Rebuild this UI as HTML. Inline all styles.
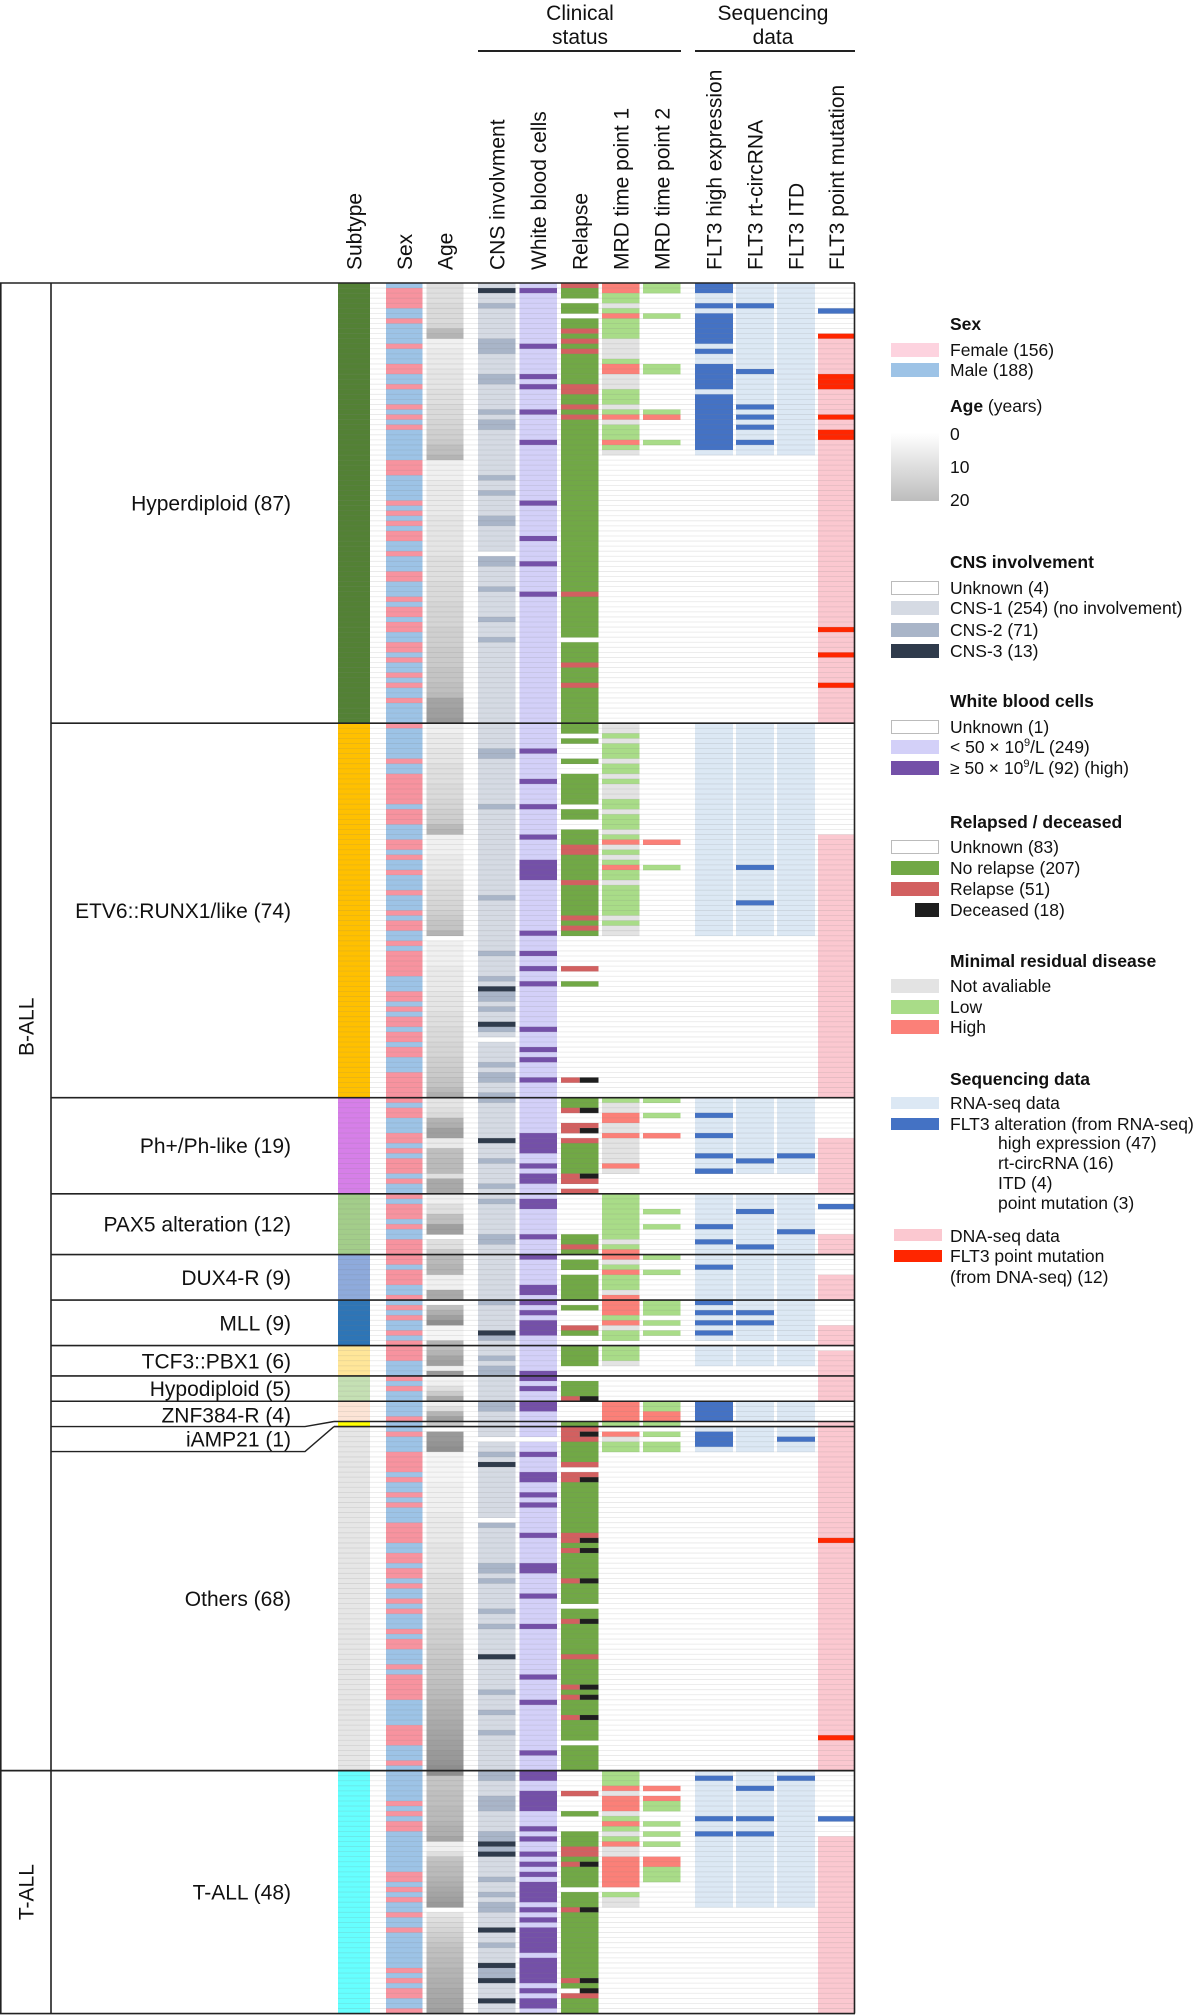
<!DOCTYPE html>
<html><head><meta charset="utf-8"><title>FLT3 cohort overview</title>
<style>
html,body{margin:0;padding:0;background:#fff;}
svg{display:block;font-family:"Liberation Sans",Arial,sans-serif;}
</style></head>
<body>
<svg id="chart" width="1200" height="2016" viewBox="0 0 1200 2016" xmlns="http://www.w3.org/2000/svg">
  <g id="header" font-size="21" fill="#111">
    <text x="580" y="20" text-anchor="middle">Clinical</text>
    <text x="580" y="44" text-anchor="middle">status</text>
    <line x1="478" y1="51" x2="681" y2="51" stroke="#222" stroke-width="2"/>
    <text x="773" y="20" text-anchor="middle">Sequencing</text>
    <text x="773" y="44" text-anchor="middle">data</text>
    <line x1="695" y1="51" x2="855" y2="51" stroke="#222" stroke-width="2"/>
  </g>
  <g id="cells"></g>
  <g id="gridlines"></g>
  <g id="frame"></g>
  <g id="labels" font-size="21" fill="#111"></g>

  <g id="legend" font-size="17.5" fill="#111">
    <text x="950" y="330" font-weight="bold">Sex</text>
    <rect x="891" y="343" width="48" height="14" fill="#fdd3df"/>
    <text x="950" y="356">Female (156)</text>
    <rect x="891" y="363" width="48" height="14" fill="#9dc3e6"/>
    <text x="950" y="376">Male (188)</text>

    <text x="950" y="412"><tspan font-weight="bold">Age</tspan> (years)</text>
    <defs><linearGradient id="ageg" x1="0" y1="0" x2="0" y2="1"><stop offset="0" stop-color="#ffffff"/><stop offset="1" stop-color="#bdbdbd"/></linearGradient></defs>
    <rect x="891" y="433" width="48" height="68" fill="url(#ageg)"/>
    <text x="950" y="440">0</text>
    <text x="950" y="473">10</text>
    <text x="950" y="506">20</text>

    <text x="950" y="568" font-weight="bold">CNS involvement</text>
    <rect x="891.5" y="581.5" width="47" height="13" fill="#fff" stroke="#bbb"/>
    <text x="950" y="594">Unknown (4)</text>
    <rect x="891" y="601" width="48" height="14" fill="#d5dae3"/>
    <text x="950" y="614">CNS-1 (254) (no involvement)</text>
    <rect x="891" y="623" width="48" height="14" fill="#a9b5c8"/>
    <text x="950" y="636">CNS-2 (71)</text>
    <rect x="891" y="644" width="48" height="14" fill="#2f3b4c"/>
    <text x="950" y="657">CNS-3 (13)</text>

    <text x="950" y="707" font-weight="bold">White blood cells</text>
    <rect x="891.5" y="720.5" width="47" height="13" fill="#fff" stroke="#bbb"/>
    <text x="950" y="733">Unknown (1)</text>
    <rect x="891" y="740" width="48" height="14" fill="#d3d0f8"/>
    <text x="950" y="753">&lt; 50 × 10<tspan font-size="11" dy="-7">9</tspan><tspan dy="7">/L (249)</tspan></text>
    <rect x="891" y="761" width="48" height="14" fill="#7450a8"/>
    <text x="950" y="774">≥ 50 × 10<tspan font-size="11" dy="-7">9</tspan><tspan dy="7">/L (92) (high)</tspan></text>

    <text x="950" y="828" font-weight="bold">Relapsed / deceased</text>
    <rect x="891.5" y="840.5" width="47" height="13" fill="#fff" stroke="#bbb"/>
    <text x="950" y="853">Unknown (83)</text>
    <rect x="891" y="861" width="48" height="14" fill="#71a846"/>
    <text x="950" y="874">No relapse (207)</text>
    <rect x="891" y="882" width="48" height="14" fill="#d26060"/>
    <text x="950" y="895">Relapse (51)</text>
    <rect x="915" y="903" width="24" height="14" fill="#1e1e1e"/>
    <text x="950" y="916">Deceased (18)</text>

    <text x="950" y="967" font-weight="bold">Minimal residual disease</text>
    <rect x="891" y="979" width="48" height="14" fill="#e3e3e3"/>
    <text x="950" y="992">Not avaliable</text>
    <rect x="891" y="1000" width="48" height="14" fill="#a9dc88"/>
    <text x="950" y="1013">Low</text>
    <rect x="891" y="1020" width="48" height="14" fill="#fb8078"/>
    <text x="950" y="1033">High</text>

    <text x="950" y="1085" font-weight="bold">Sequencing data</text>
    <rect x="891" y="1097" width="48" height="12" fill="#dce8f4"/>
    <text x="950" y="1109">RNA-seq data</text>
    <rect x="891" y="1118" width="48" height="12" fill="#4472c4"/>
    <text x="950" y="1130">FLT3 alteration (from RNA-seq)</text>
    <text x="998" y="1149">high expression (47)</text>
    <text x="998" y="1169">rt-circRNA (16)</text>
    <text x="998" y="1189">ITD (4)</text>
    <text x="998" y="1209">point mutation (3)</text>
    <rect x="894" y="1229" width="48" height="12" fill="#fbc8d0"/>
    <text x="950" y="1242">DNA-seq data</text>
    <rect x="894" y="1250" width="48" height="12" fill="#ff2600"/>
    <text x="950" y="1262">FLT3 point mutation</text>
    <text x="950" y="1283">(from DNA-seq) (12)</text>
  </g>
</svg>
<script>
// ---- data ----
const groupNames = ["Hyperdiploid (87)","ETV6::RUNX1/like (74)","Ph+/Ph-like (19)","PAX5 alteration (12)","DUX4-R (9)","MLL (9)","TCF3::PBX1 (6)","Hypodiploid (5)","ZNF384-R (4)","iAMP21 (1)","Others (68)","T-ALL (48)"];
const groupCounts = [87,74,19,12,9,9,6,5,4,1,68,48];
const columnNames = ["Subtype","Sex","Age","CNS involvment","White blood cells","Relapse","MRD time point 1","MRD time point 2","FLT3 high expression","FLT3 rt-circRNA","FLT3 ITD","FLT3 point mutation"];

const sexRuns = [
 "M1F4M2F1M4F1M3F2M2F1M3F1M1F1M1F1M6F3M5F1M1F1M1F1M1F2M2F1M3F2M3F1M1F2M1F2M2F2M1F1M2F1M1F1M2F1M4",
 "F1M6F1M2F6M1F3M3F2M1F1M2F1M3F1M3F1M1F2M2F1M1F5M3F2M1F1M1F2M1F2M1F2M3F5",
 "F1M1F2M3F2M1F1M1F3M1F1M2","F1M1F3M1F1M2F3","F2M1F3M2F1","M1F1M1F1M2F1M1F1","F3M3","F1M1F1M2","M3F1","M1",
 "M1F1M3F4M1F1M2F1M1F1M3F4M2F2M1F2M1F1M2F1M1F1M3F1M1F2M3F1M1F5M5F4M3F1M1",
 "M6F1M1F1M1F2M8F2M1F1M1F1M2F1M2F1M7F1M1F1M1F2M2F1"];
const ageCodes = [
 "444455556bc112222333344455566778aac11112222222333333334444455556666677778888999aabffggh",
 "11222333444455566778bc1111222334455667899c-11111222223333444555666778899bd",
 "3345cdgg22aabbb4eee","1144aagg-448","bbcc111ee","-adgj000c","acfg1h","0148e","14cg","8",
 "-hhij000000111111222222333333444455556667778889999aabbccddeeffgghhijj",
 "999aaabbbcddf1149abbcdefgh-3456789aabbccddeeffgh"];
const cnsRuns = [
 "A1C1A2B1A6B3A4B2A5B1A1B2A9B1A2B1A4B2A5U1B2A3A1B1A5B1A3B1A16",
 "A5B2A9B1A13A4B1A10B1A4B1A1C1B2A1B1A2C1B1A1U1A4B1A1B2A2B1",
 "B1A7C1A3B1A4B1A1","A1B1A6B2A2","A9","B1A5C1B1A1","A2B1A1B2","A5","B2A2","A1",
 "A2U1A2B1A1C1A10U1B1A7B2A1B1A5B1A2B1A5C1A6B1A3B1A3B1A7",
 "B2A3B3A4B2C1B1C1A4B1A2B1A1B2A3C1A2B1A3C1B2C1A3C1A2"];
const wbcRuns = [
 "L1H1L10H1L5H1L1H1L4H1L5H1L11H1L6H1L4H1L3L2H1L25",
 "L5H1L5H1L4H1L5H1L4H4L10H1L3H1L2H1L2H1L8H1L3H1L1H1L3H1L3",
 "L7H4L2H1L1H2L2","L1H2L5H1L3","H1L5H2L1","H1L1H1L1H3L2","L5H1","H1L1H1L2","H2L2","L1",
 "L2U1L2H1L3H2L2H1L1H1L5H1L5H2L4H1L5H1L9H1L4H1L9H1L3",
 "H2L2H4L3H1L1H1L2H1L1H1L1H1L1H4L1H1L1H1L1H5L1H5L1H1L1H2L1"];
const relapseRuns = [
 "R1G2U1G2U1G2R1G1R1G1R1G6R2G2R1G1R1G32G2R1G8U1G4R1G3R1G7",
 "G2U1G1U3G1U2G6U1G2U2G3R2G5R1G6R1G1R1G1U6R1U2G1U18D1U3",
 "G2D1U2R1D1U1R1G6D1R1U1R1","U8G2R1G1","U1G2U1G5","U1G1U3R1G1U2","G4U2","U1G3D1","U4","G1",
 "R1D1R1G4R1U1R1D1G10R1D1G1D1G5D1G4U1G2D1G6R1G5D1G1D1G3D1G4U1G5",
 "U4R1U3G1U3G3R2G1D1G4U1G3D1G13D1G1K1R1G3"];
const mrd1Runs = [
 "H2L2A1L1H1L4A4L1H2A3L3A1L1H1A1L3H1L1A1U53",
 "A2L1A1L3A1L2A1L1A3L2A1L3A1L1H1A1L1A1L1H1L2A1L6A1L1A2U32",
 "L1A2H2A2H1A5H1A1U4","L9A1L1H1","H1A1L1H1L3A1H1","H3L1H1A1L2U1","L3A1U2","U5","H4","L1",
 "U1H1A1L2U63",
 "L3H1A1H3A1L1H1L1A1L1H1A2H6U1L1A2U21"];
const mrd2Runs = [
 "L2U4L1U9L2U7L1H1U4L1U55","U23H1U4L1U45","L1U2L1U3H1U11","U3L1U2L1U5","L1U2L1U5","L3U1L1U1L1U2","U6","U5","L2H2","L1",
 "U1L1U1L2U63","U3H1U1H1L2U2L1U1L1U1L1U2H2L3U26"];
const highExprRuns = [
 "B2S2B1S1B6S1B1S2B5S1B11S1U53","S42U32","S3B1S3B1S3B1S2B1U4","S6B1S2B1S2","S2B1S6","B1S1B1S1B1S1B1S1U1","S4U2","U5","B4","U1",
 "S1B3S1U63","S1B1S7B1S2B1S14U21"];
const circRuns = [
 "S4B1S12B1S6B1S1B1S1B1S2B1S2U53","S28B1S6B1S6U32","S12B1S2U4","S3B1S6B1S1","S9","S2B1S1B1S3U1","S4U2","U5","S4","U1",
 "S5U63","S3B1S5B1S2B1S14U21"];
const itdRuns = [
 "S34U53","S42U32","S11B1S3U4","S7B1S4","S9","S8U1","S4U2","U5","S4","U1","S2B1S2U63","S1B1S25U21"];
const pointMutRuns = [
 "U5B1U4M1P7M3P5M1P2M2P28P9M1P4M1P5M1P7","U22P52","U8P11","U2B1U5P4","U4P5","U5P4","U1P5","P5","U4","P1",
 "P22M1P38M1P6","U9B1U3P35"];

// ---- styles ----
const subtypeColors = ["#538135","#ffc000","#d67fe8","#a3cd8a","#8eaadb","#2e75b6","#ffe699","#c5e0b4","#fce4d6","#ffff00","#e6e6e6","#66ffff"];
const pal = {
  sex:{M:"#9dc3e6",F:"#f7939f"},
  cns:{A:"#d5dae3",B:"#a9b5c8",C:"#2f3b4c"},
  wbc:{L:"#d3d0f8",H:"#7450a8"},
  rel:{G:"#71a846",R:"#d26060"},
  mrd:{A:"#e3e3e3",L:"#a9dc88",H:"#fb8078"},
  seq:{S:"#dce8f4",B:"#4472c4"},
  pm:{P:"#fbc8d0",M:"#ff2600",B:"#4472c4"}
};
const colX = [338,386,426.5,478,519.5,561,602,643,695,736,777,818];
const colW = [32,36.5,37,37.5,37.5,37.5,37.5,37.5,38,38,38,37];
const top0 = 283, rowH = 5.06, nRows = groupCounts.reduce((a,b)=>a+b,0);
const RIGHT = 855;
const yOf = i => top0 + i*rowH;
const NS = "http://www.w3.org/2000/svg";

function rle(list){
  const out=[];
  list.forEach(s=>{const re=/([A-Z])(\d+)/g;let m;while((m=re.exec(s))){for(let k=0;k<+m[2];k++)out.push(m[1]);}});
  return out;
}
function fit(a,fill){a=a.slice(0,nRows);while(a.length<nRows)a.push(fill);return a;}
function mk(tag,attrs,parent){const e=document.createElementNS(NS,tag);for(const k in attrs)e.setAttribute(k,attrs[k]);parent.appendChild(e);return e;}

const cells = document.getElementById("cells");
function cell(col,i,color,name,x0,w0){
  const r = mk("rect",{x:(x0!==undefined?x0:colX[col]),y:yOf(i).toFixed(2),width:(w0!==undefined?w0:colW[col]),height:(rowH+0.3).toFixed(2),fill:color},cells);
  
  
}

const groupOfRow=[];
groupCounts.forEach((c,g)=>{for(let k=0;k<c;k++)groupOfRow.push(g);});
groupOfRow.forEach((g,i)=>cell(0,i,subtypeColors[g],"subtype-cell"));
fit(rle(sexRuns),"U").forEach((c,i)=>{if(pal.sex[c])cell(1,i,pal.sex[c],"sex-cell");});
fit(ageCodes.join("").split(""),"-").forEach((c,i)=>{
  if(c==="-")return;const age=parseInt(c,36);const v=Math.round(245-age*5.4);
  cell(2,i,`rgb(${v},${v},${v})`,"age-cell");
});
fit(rle(cnsRuns),"U").forEach((c,i)=>{if(pal.cns[c])cell(3,i,pal.cns[c],"cns-cell");});
fit(rle(wbcRuns),"U").forEach((c,i)=>{if(pal.wbc[c])cell(4,i,pal.wbc[c],"wbc-cell");});
const halfW = colW[5]/2;
fit(rle(relapseRuns),"U").forEach((c,i)=>{
  if(pal.rel[c])cell(5,i,pal.rel[c],"relapse-cell");
  else if(c==="D"){cell(5,i,pal.rel.R,"relapse-cell",colX[5],halfW);cell(5,i,"#1e1e1e","deceased-cell",colX[5]+halfW,halfW);}
  else if(c==="K"){cell(5,i,"#1e1e1e","deceased-cell",colX[5]+halfW,halfW);}
});
fit(rle(mrd1Runs),"U").forEach((c,i)=>{if(pal.mrd[c])cell(6,i,pal.mrd[c],"mrd1-cell");});
fit(rle(mrd2Runs),"U").forEach((c,i)=>{if(pal.mrd[c])cell(7,i,pal.mrd[c],"mrd2-cell");});
fit(rle(highExprRuns),"U").forEach((c,i)=>{if(pal.seq[c])cell(8,i,pal.seq[c],"flt3-high-cell");});
fit(rle(circRuns),"U").forEach((c,i)=>{if(pal.seq[c])cell(9,i,pal.seq[c],"flt3-circ-cell");});
fit(rle(itdRuns),"U").forEach((c,i)=>{if(pal.seq[c])cell(10,i,pal.seq[c],"flt3-itd-cell");});
fit(rle(pointMutRuns),"U").forEach((c,i)=>{if(pal.pm[c])cell(11,i,pal.pm[c],"flt3-pm-cell");});

const gl=document.getElementById("gridlines");
for(let i=1;i<nRows;i++){
  const l=mk("line",{x1:338,x2:RIGHT,y1:yOf(i).toFixed(2),y2:yOf(i).toFixed(2),stroke:"rgba(120,120,120,0.18)","stroke-width":0.8},gl);
  
  
}

const hdr=document.getElementById("header");
columnNames.forEach((n,c)=>{
  const cx=colX[c]+colW[c]/2+7.5;
  const t=mk("text",{transform:`translate(${cx},270) rotate(-90)`,"font-size":21},hdr);
  t.textContent=n;
  
  
});

const fr=document.getElementById("frame");
const bottom=yOf(nRows);
function ln(x1,y1,x2,y2,name,w){
  const l=mk("line",{x1,y1,x2,y2,stroke:"#222","stroke-width":w||1.6},fr);
  
  
}
function pl(pts,name){
  const p=mk("polyline",{points:pts,fill:"none",stroke:"#222","stroke-width":1.4},fr);
  
  
}
ln(0,top0,RIGHT,top0,"table-top-border");
ln(0.8,top0,0.8,bottom,"table-left-border");
ln(51,top0,51,bottom,"group-divider-vertical");
ln(RIGHT-0.5,top0,RIGHT-0.5,bottom,"table-right-border");
ln(0,bottom,RIGHT,bottom,"table-bottom-border");
let start=0;const bounds=[];
groupCounts.forEach(c=>{start+=c;bounds.push(start);});
const tIdx=groupNames.length-1;
bounds.slice(0,-1).forEach((b,g)=>{
  const y=yOf(b);
  if(g===tIdx-1){ln(0,y,RIGHT,y,"b-all-t-all-separator",1.8);}
  else if(g===8||g===9){ln(334,y,RIGHT,y,"group-separator");}
  else ln(51,y,RIGHT,y,"group-separator");
});
const yZ=yOf(bounds[8]), yI=yOf(bounds[9]);
pl(`51,${yI} 305,${yI} 334,${yZ}`,"znf384-label-box");
pl(`51,${yI+25} 305,${yI+25} 334,${yI}`,"iamp21-label-box");

const lb=document.getElementById("labels");
let s0=0;
groupCounts.forEach((c,g)=>{
  let cy=(yOf(s0)+yOf(s0+c))/2;
  if(g===8)cy=(yOf(s0)+yI)/2+1;
  if(g===9)cy=yI+12.5;
  const t=mk("text",{x:291,y:(cy+7.5).toFixed(1),"text-anchor":"end"},lb);
  t.textContent=groupNames[g];
  
  
  s0+=c;
});
const ball=mk("text",{transform:`translate(33.5,${((top0+yOf(bounds[tIdx-1]))/2).toFixed(1)}) rotate(-90)`,"text-anchor":"middle"},lb);
ball.textContent="B-ALL";


const tall=mk("text",{transform:`translate(33.5,${((yOf(bounds[tIdx-1])+bottom)/2).toFixed(1)}) rotate(-90)`,"text-anchor":"middle"},lb);
tall.textContent="T-ALL";


</script>
</body></html>
